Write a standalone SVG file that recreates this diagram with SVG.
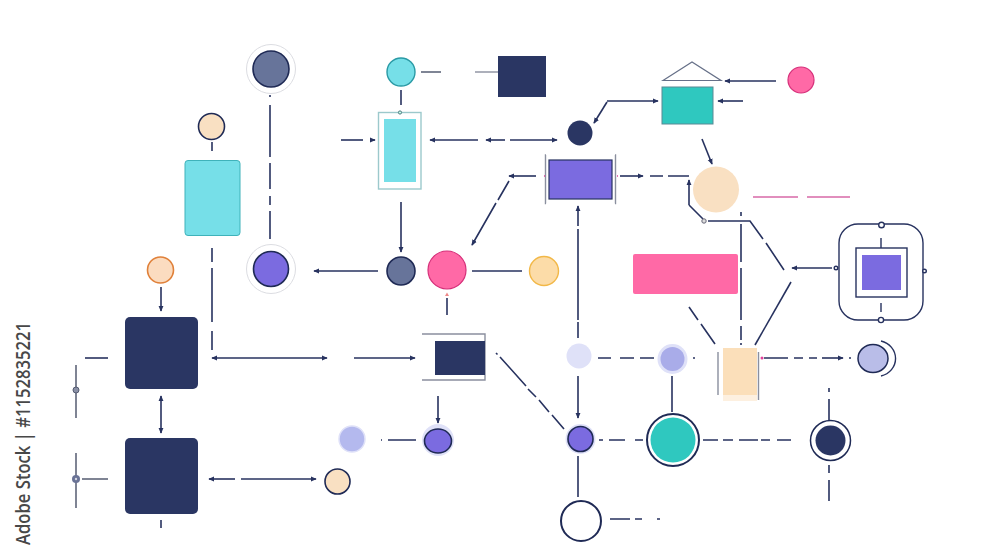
<svg xmlns="http://www.w3.org/2000/svg" width="1000" height="560" viewBox="0 0 1000 560">
<style>
.c{fill:none;stroke:#27325f;stroke-width:1.6}
.g{fill:none;stroke:#555c72;stroke-width:1.5}
.p{fill:none;stroke:#d76aa8;stroke-width:1.5}
.n{stroke:#1f2a55;stroke-width:1.6}
.navy{fill:#2a3663}
.slate{fill:#67749a}
.purple{fill:#7b6be0}
.cream{fill:#f9e0c2}
.cyan{fill:#76dfe8}
.teal{fill:#2fc8bf}
.pink{fill:#ff69a6}
.lav{fill:#b4b9ee}
.halo{fill:#dfe1f8}
.ring{fill:none;stroke:#dcdde2;stroke-width:1}
.line{fill:none;stroke:#27325f;stroke-width:1.4}
.gray{fill:none;stroke:#8a8f9e;stroke-width:1.4}
.small{fill:#fff;stroke:#27325f;stroke-width:1.4}
</style>
<defs>
<marker id="a" viewBox="0 0 8 8" refX="7" refY="4" markerWidth="6" markerHeight="6" markerUnits="userSpaceOnUse" orient="auto-start-reverse"><path d="M0 0.6L8 4L0 7.400z" fill="#27325f"/></marker>
</defs>
<rect width="1000" height="560" fill="#fff"/>
<text id="stock-label" transform="translate(30 545) rotate(-90)" font-family="'Open Sans','Liberation Sans',sans-serif" font-size="19" font-weight="600" fill="#484848" textLength="223" lengthAdjust="spacingAndGlyphs">Adobe Stock | #1152835221</text>

<g id="connectors">
<path class="c" d="M270 95V97M270 105V157M270 163V189M270 196V205M270 211V239"/>
<path class="c" d="M212 142V151"/>
<path class="c" d="M212 248V262M212 268V322M212 331V350"/>
<path class="c" d="M161 287V311" marker-end="url(#a)"/>
<path class="c" d="M212 358H327" marker-start="url(#a)" marker-end="url(#a)"/>
<path class="c" d="M161 396V433" marker-start="url(#a)" marker-end="url(#a)"/>
<path class="c" d="M85 358H108"/>
<path class="g" d="M76 365V418M76 453V508M82 479H108"/>
<path class="c" d="M209 479H235" marker-start="url(#a)"/>
<path class="c" d="M241 479H316" marker-end="url(#a)"/>
<path class="c" d="M161 520V528"/>
<path class="g" d="M421 72H441"/>
<path class="gray" d="M475 72H498"/>
<path class="c" d="M401 90V105"/>
<path class="c" d="M341 140H363"/>
<path class="c" d="M372 140H375" marker-end="url(#a)"/>
<path class="c" d="M478 140H430" marker-end="url(#a)"/>
<path class="c" d="M505 140H486" marker-end="url(#a)"/>
<path class="c" d="M510 140H557" marker-end="url(#a)"/>
<path class="c" d="M607 101H658" marker-end="url(#a)"/>
<path class="c" d="M607 102L594 123" marker-end="url(#a)"/>
<path class="c" d="M536 176H509" marker-end="url(#a)"/>
<path class="c" d="M509 181L498 200M496 203L472 245" marker-end="url(#a)"/>
<path class="c" d="M401 202V252" marker-end="url(#a)"/>
<path class="c" d="M378 271H314" marker-end="url(#a)"/>
<path class="c" d="M472 271H522"/>
<path class="c" d="M447 298V315"/>
<path class="c" d="M578 338V322M578 320V229M578 226V206" marker-end="url(#a)"/>
<path class="c" d="M776 81H725" marker-end="url(#a)"/>
<path class="c" d="M743 101H718" marker-end="url(#a)"/>
<path class="c" d="M702 139L712 164" marker-end="url(#a)"/>
<path class="c" d="M620 176H643" marker-end="url(#a)"/>
<path class="c" d="M650 176H663M668 176H689"/>
<path class="c" d="M689 205V180" marker-end="url(#a)"/>
<path class="c" d="M689 205L703 219"/>
<path class="c" d="M708 221H750L763 239M766 243L784 270"/>
<path class="c" d="M832 268H792" marker-end="url(#a)"/>
<path class="c" d="M791 282L755 345"/>
<path class="c" d="M741 212V216M741 224V262M741 268V320M741 326V340M741 343V345"/>
<path class="p" d="M753 197H798M807 197H850"/>
<path class="c" d="M689 307L698 320M701 324L715 344"/>
<path class="c" d="M354 358H415" marker-end="url(#a)"/>
<path class="c" d="M438 396V423" marker-end="url(#a)"/>
<path class="c" d="M381 440H382M388 440H416"/>
<path class="c" d="M496 353L497.500 354.500M500 357L526 386M528 389L536 397M539 400L549 412M552 415L564 429"/>
<path class="c" d="M598 358H611M620 358H634M640 358H654"/>
<path class="c" d="M578 376V418" marker-end="url(#a)"/>
<path class="c" d="M599 440H603M609 440H625M635 440H643"/>
<path class="c" d="M578 456V497"/>
<path class="c" d="M610 519H630M635 519H642M657 519H660"/>
<path class="c" d="M672 376V412"/>
<path class="c" d="M693 358H695"/>
<path class="c" d="M764 358H788M794 358H803M809 358H817"/>
<path class="c" d="M822 358H843" marker-end="url(#a)"/>
<path class="c" d="M849 358H851"/>
<path class="c" d="M703 440H718M723 440H733M739 440H758M761 440H770M777 440H791"/>
<path class="c" d="M829 388V392M829 399V421M829 465V473M829 480V501"/>
</g>

<g id="n-slate-ring"><circle class="ring" cx="271" cy="69" r="24.500"/><circle class="slate n" cx="271" cy="69" r="18"/></g>
<g id="n-purple-ring"><circle class="ring" cx="271" cy="269" r="24.500"/><circle class="purple n" cx="271" cy="269" r="17.500"/></g>
<g id="n-cream-top"><circle class="cream n" cx="211.500" cy="126.500" r="13"/></g>
<g id="n-cyan-rect"><rect class="cyan" x="185" y="160.500" width="55" height="75" rx="3" stroke="#3fb2ba" stroke-width="1"/></g>
<g id="n-orange"><circle cx="160.500" cy="270" r="13" fill="#fbdcc0" stroke="#e0813a" stroke-width="1.600"/></g>
<g id="n-navy-1"><rect class="navy" x="125" y="317" width="73" height="72" rx="5"/></g>
<g id="n-navy-2"><rect class="navy" x="125" y="438" width="73" height="76" rx="5"/></g>
<g id="n-tiny-1"><circle cx="76" cy="390" r="3" fill="#8a90a6" stroke="#555c72"/></g>
<g id="n-tiny-2"><circle cx="76" cy="479" r="4" fill="#6a7396"/><circle cx="76" cy="479" r="1.200" fill="#d5d8e4"/></g>
<g id="n-cream-bottom"><circle class="cream n" cx="337.500" cy="481.500" r="12.500"/></g>

<g id="n-cyan-circle"><circle class="cyan" cx="401" cy="72" r="14" stroke="#2a9aa5" stroke-width="1.400"/></g>
<g id="n-navy-top"><rect class="navy" x="498" y="56" width="48" height="41"/></g>
<g id="n-cyan-frame"><rect x="378.500" y="112.500" width="42.500" height="76.500" fill="#fff" stroke="#9cc9cc" stroke-width="1.400"/><rect class="cyan" x="384" y="119" width="32" height="63"/><circle cx="400" cy="112.500" r="1.600" fill="#cfe" stroke="#4a7a80"/></g>
<g id="n-navy-dot"><circle class="navy" cx="580" cy="133" r="12.500"/></g>
<g id="n-purple-rect"><rect class="purple" x="549" y="160" width="63" height="39" stroke="#27325f" stroke-width="1.200"/><path class="gray" d="M546 155H545.500V203.500H546M615 155H615.500V203.500H615"/><path d="M545 176H544M618 176H617" stroke="#e0409a" stroke-width="1.500" fill="none"/></g>
<g id="n-slate"><circle class="slate n" cx="401" cy="271" r="14"/></g>
<g id="n-pink"><circle class="pink" cx="447" cy="270" r="19" stroke="#d6307a" stroke-width="1.200"/><path d="M445 296L447 292.500L449 296z" fill="#e88"/></g>
<g id="n-yellow"><circle cx="544" cy="271" r="14.500" fill="#fcdca8" stroke="#f2b848" stroke-width="1.400"/></g>

<g id="n-teal-roof"><path d="M663 80.500L692 62L721 80.500z" fill="#fff" stroke="#667088" stroke-width="1.200"/><rect class="teal" x="662" y="87" width="51" height="37" stroke="#5a8a94" stroke-width="1"/></g>
<g id="n-pink-top"><circle class="pink" cx="801" cy="80" r="13" stroke="#d6307a" stroke-width="1.200"/></g>
<g id="n-cream-big"><circle class="cream" cx="716" cy="189.500" r="23"/></g>
<g id="n-tiny-3"><circle cx="704" cy="221" r="2.200" fill="#ddd" stroke="#667"/></g>
<g id="n-pink-rect"><rect class="pink" x="633" y="254" width="105" height="40" rx="2"/></g>
<g id="n-frame">
<rect x="839" y="224" width="84" height="96" rx="19" fill="#fff" stroke="#27325f" stroke-width="1.400"/>
<rect x="856" y="248" width="51" height="49" fill="#fff" stroke="#27325f" stroke-width="1.400"/>
<rect class="purple" x="862" y="255" width="39" height="35"/>
<path class="line" d="M881 238V248M881 303V312"/>
<circle class="small" cx="881.500" cy="225" r="2.800"/>
<circle class="small" cx="881" cy="320" r="2.600"/>
<circle class="small" cx="924.500" cy="271" r="1.800"/>
<circle class="small" cx="836" cy="268" r="1.800"/>
</g>

<g id="n-bracket-navy"><path class="gray" d="M422 334H485V380H422"/><rect class="navy" x="435" y="341" width="50" height="34"/></g>
<g id="n-lav-1"><circle class="lav" cx="352" cy="439" r="13" stroke="#dfe1f8" stroke-width="1.500"/></g>
<g id="n-purple-1"><circle class="halo" cx="438" cy="440" r="16"/><ellipse class="purple n" cx="438" cy="441" rx="13.500" ry="12"/></g>
<g id="n-lav-2"><circle class="halo" cx="579" cy="356" r="12.500"/></g>
<g id="n-purple-2"><circle class="halo" cx="580.500" cy="439" r="15"/><circle class="purple n" cx="580.500" cy="439" r="12.500"/></g>
<g id="n-white"><circle cx="581" cy="521" r="20" fill="#fff" stroke="#1f2a55" stroke-width="2"/></g>
<g id="n-lav-3"><circle class="halo" cx="672.500" cy="359" r="15"/><circle cx="672.500" cy="359" r="12" fill="#a9ace9"/></g>
<g id="n-teal-big"><circle cx="673" cy="440" r="26" fill="#fff" stroke="#1f2a55" stroke-width="2"/><circle class="teal" cx="673" cy="440" r="22.500"/></g>
<g id="n-cream-rect"><rect x="723" y="348" width="34" height="53" fill="#fdf0e0"/><rect x="723" y="348" width="34" height="47" fill="#fbdfba"/><path class="gray" d="M718 352V395M758.500 352V400"/></g>
<g id="n-pink-tick"><circle cx="762" cy="358" r="1.500" fill="#e0409a"/></g>
<g id="n-lav-arc"><ellipse cx="873" cy="358.500" rx="15" ry="14" fill="#b9bde8" stroke="#1f2a55" stroke-width="1.500"/><path class="line" d="M881 341A19 18 0 0 1 881 376"/></g>
<g id="n-navy-ring"><circle cx="830.500" cy="440.500" r="20" fill="#fff" stroke="#1f2a55" stroke-width="1.500"/><circle class="navy" cx="830.500" cy="440.500" r="15"/></g>
</svg>
